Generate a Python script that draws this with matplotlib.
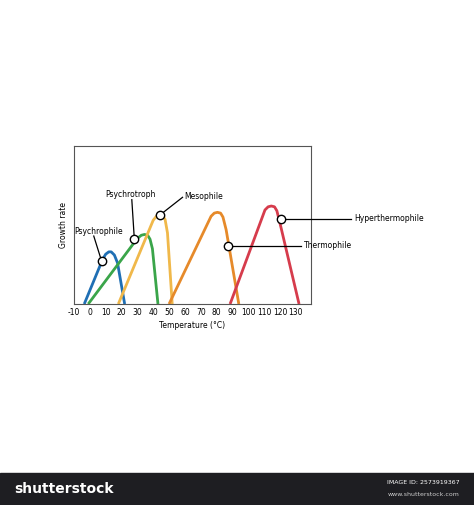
import matplotlib
matplotlib.use("Agg")
import matplotlib.pyplot as plt
from matplotlib.patches import Rectangle

xticks = [-10, 0, 10, 20, 30, 40, 50, 60, 70, 80, 90, 100, 110, 120, 130]
psychrophile_x = [-3.5, 8, 10, 12, 13.5, 15.5, 17.5, 22]
psychrophile_y = [0, 0.28, 0.315, 0.33, 0.33, 0.31, 0.26, 0]
psychrotroph_x = [-1, 30, 32.5, 34.5, 36.5, 38, 39.5, 43]
psychrotroph_y = [0, 0.415, 0.435, 0.44, 0.435, 0.41, 0.35, 0]
mesophile_x = [18, 40, 42, 44, 46, 47.5, 49, 52]
mesophile_y = [0, 0.53, 0.555, 0.565, 0.56, 0.535, 0.45, 0]
thermophile_x = [50, 76.5, 78.5, 80.5, 82.5, 84, 86, 94]
thermophile_y = [0, 0.555, 0.575, 0.58, 0.575, 0.55, 0.47, 0]
hyper_x = [88.5, 110.5, 112.5, 114.5, 116.5, 118, 120, 132]
hyper_y = [0, 0.595, 0.615, 0.62, 0.615, 0.59, 0.51, 0]

fig = plt.figure(figsize=(4.74, 5.05), dpi=100)
ax = fig.add_axes([0.156, 0.398, 0.500, 0.313])
ax.set_xlim(-10, 139.5)
ax.set_ylim(0, 1)
series = [(psychrophile_x, psychrophile_y, "#1f6fb4"),
          (psychrotroph_x, psychrotroph_y, "#3aa54a"),
          (mesophile_x, mesophile_y, "#f0b84a"),
          (thermophile_x, thermophile_y, "#e68a2a"),
          (hyper_x, hyper_y, "#d63c4c")]
for x, y, c in series:
    ax.plot(x, y, color=c, lw=2, solid_joinstyle="round", solid_capstyle="butt")

ann = [("Psychrophile", 7.5, 0.27, 5.5, 0.46, "center", (2.5, 0.43)),
       ("Psychrotroph", 28.1, 0.41, 25.4, 0.69, "center", (26.5, 0.66)),
       ("Mesophile", 44.5, 0.565, 59.7, 0.68, "left", (58.5, 0.675)),
       ("Thermophile", 87, 0.37, 135, 0.37, "left", (133, 0.37)),
       ("Hyperthermophile", 120.5, 0.54, 167, 0.54, "left", (165, 0.54))]
for lab, mx, my, tx, ty, ha, (lx, ly) in ann:
    ax.plot([mx, lx], [my, ly], color="black", lw=0.9, clip_on=False, zorder=4)
    ax.plot(mx, my, "o", ms=6, mfc="white", mec="black", mew=1, zorder=5, clip_on=False)
    ax.text(tx, ty, lab, ha=ha, va="center", fontsize=5.5, clip_on=False)

ax.set_xticks(xticks)
ax.set_xticklabels([str(t) for t in xticks], fontsize=5.5)
ax.set_yticks([])
ax.tick_params(axis="x", length=0, pad=3)
for s in ax.spines.values():
    s.set_color("#555555")
    s.set_linewidth(0.8)
ax.set_xlabel("Temperature (°C)", fontsize=5.5, labelpad=3)
ax.set_ylabel("Growth rate", fontsize=5.5, labelpad=4)

fig.patches.append(Rectangle((0, 0), 1, 32/505, transform=fig.transFigure, color="#1e1e22", zorder=0))
fig.text(0.03, 32/505/2, "shutterstock", color="white", fontsize=10, fontweight="bold", va="center")
fig.text(0.97, 0.045, "IMAGE ID: 2573919367", color="white", fontsize=4.5, ha="right", va="center")
fig.text(0.97, 0.02, "www.shutterstock.com", color="#cccccc", fontsize=4.5, ha="right", va="center")
fig.savefig("out.png", dpi=100, facecolor="white")
